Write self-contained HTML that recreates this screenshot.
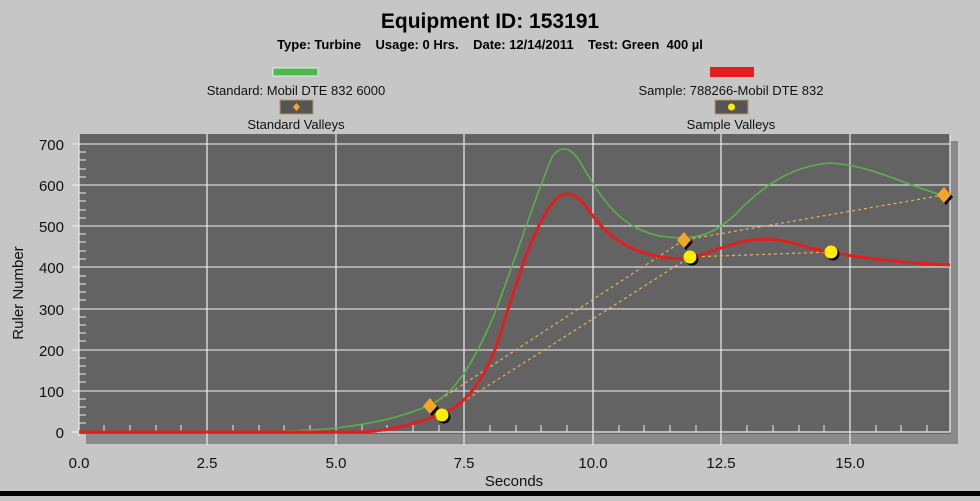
<!DOCTYPE html>
<html><head><meta charset="utf-8"><style>
body{margin:0;background:#c6c6c6;width:980px;height:496px;overflow:hidden;font-family:"Liberation Sans",sans-serif;}
</style></head><body>
<svg width="980" height="496" xmlns="http://www.w3.org/2000/svg" font-family="Liberation Sans, sans-serif">
<rect width="980" height="496" fill="#c6c6c6"/>
<rect x="0" y="491" width="980" height="5" fill="#000"/>
<text x="490" y="28" text-anchor="middle" font-size="21" font-weight="bold" fill="#000">Equipment ID: 153191</text>
<text x="490" y="49" text-anchor="middle" font-size="13" font-weight="bold" fill="#000" xml:space="preserve">Type: Turbine    Usage: 0 Hrs.    Date: 12/14/2011    Test: Green  400 µl</text>
<rect x="273" y="68" width="45" height="8" fill="#4db84d" stroke="#eee" stroke-width="1"/>
<text x="296" y="95" text-anchor="middle" font-size="13" fill="#111">Standard: Mobil DTE 832 6000</text>
<rect x="280" y="100" width="33" height="14" fill="#555" stroke="#b89a60"/>
<path d="M296.5 103 L300 107 L296.5 111 L293 107Z" fill="#f5a623"/>
<text x="296" y="129" text-anchor="middle" font-size="13" fill="#111">Standard Valleys</text>
<rect x="710" y="67" width="44" height="10" fill="#e01f1f"/>
<text x="731" y="95" text-anchor="middle" font-size="13" fill="#111">Sample: 788266-Mobil DTE 832</text>
<rect x="715" y="100" width="33" height="14" fill="#555" stroke="#b89a60"/>
<circle cx="731.5" cy="107" r="3.5" fill="#ffee00"/>
<text x="731" y="129" text-anchor="middle" font-size="13" fill="#111">Sample Valleys</text>
<rect x="86" y="141" width="872" height="303" fill="#8a8a8a"/>
<rect x="79" y="134" width="871" height="300" fill="#636363"/>
<g stroke="#d8d8d8" stroke-width="1.2">
<line x1="79" y1="144" x2="950" y2="144"/><line x1="79" y1="185" x2="950" y2="185"/>
<line x1="79" y1="226" x2="950" y2="226"/><line x1="79" y1="267" x2="950" y2="267"/>
<line x1="79" y1="309" x2="950" y2="309"/><line x1="79" y1="350" x2="950" y2="350"/>
<line x1="79" y1="391" x2="950" y2="391"/>
</g>
<g stroke="#eee" stroke-width="1.2">
<line x1="207" y1="134" x2="207" y2="445"/><line x1="336" y1="134" x2="336" y2="445"/>
<line x1="464" y1="134" x2="464" y2="445"/><line x1="593" y1="134" x2="593" y2="445"/>
<line x1="721" y1="134" x2="721" y2="445"/><line x1="850" y1="134" x2="850" y2="445"/>
<line x1="79" y1="134" x2="79" y2="436"/><line x1="72" y1="432" x2="950" y2="432"/>
<line x1="950" y1="134" x2="950" y2="432"/>
</g>
<g stroke="#eee" stroke-width="1">
<path d="M79 152h7M79 160h7M79 169h7M79 177h7M79 193h7M79 201h7M79 210h7M79 218h7M79 234h7M79 242h7M79 251h7M79 259h7M79 276h7M79 284h7M79 292h7M79 300h7M79 317h7M79 325h7M79 333h7M79 341h7M79 358h7M79 366h7M79 374h7M79 382h7M79 399h7M79 407h7M79 415h7M79 423h7"/>
<path d="M104 425v7M130 425v7M156 425v7M181 425v7M233 425v7M259 425v7M284 425v7M310 425v7M362 425v7M387 425v7M413 425v7M439 425v7M490 425v7M516 425v7M541 425v7M567 425v7M619 425v7M644 425v7M670 425v7M696 425v7M747 425v7M773 425v7M799 425v7M824 425v7M876 425v7M901 425v7M927 425v7"/>
</g>
<path d="M72 144h7M72 185h7M72 226h7M72 267h7M72 309h7M72 350h7M72 391h7" stroke="#eee"/>
<g font-size="15" fill="#111" text-anchor="end">
<text x="64" y="150">700</text><text x="64" y="191">600</text><text x="64" y="232">500</text><text x="64" y="273">400</text><text x="64" y="315">300</text><text x="64" y="356">200</text><text x="64" y="397">100</text><text x="64" y="438">0</text>
</g>
<g font-size="15" fill="#111" text-anchor="middle">
<text x="79" y="468">0.0</text><text x="207" y="468">2.5</text><text x="336" y="468">5.0</text><text x="464" y="468">7.5</text><text x="593" y="468">10.0</text><text x="721" y="468">12.5</text><text x="850" y="468">15.0</text>
</g>
<text x="514" y="486" text-anchor="middle" font-size="15" fill="#111">Seconds</text>
<text transform="translate(23,293) rotate(-90)" text-anchor="middle" font-size="15" fill="#111">Ruler Number</text>
<g stroke="#e8b060" stroke-width="1.2" stroke-dasharray="3,3" fill="none">
<path d="M430 406 L684 240 L944 195"/>
<path d="M442 415 L690 257 L831 252"/>
</g>
<path d="M79 432 L250 432 C290 431 320 430 336 428 C370 424 400 418 430 405 C455 393 472 365 492 320 C512 270 532 205 552 157 C562 143 572 148 582 165 C602 200 620 228 660 236 C700 242 715 232 735 215 C760 188 790 166 830 163 C870 165 900 183 945 196" stroke="#5bb04b" stroke-width="1.6" fill="none"/>
<path d="M79 432 L360 432 C390 431 410 425 440 415 C465 405 480 385 495 350 C515 290 530 230 555 200 C565 190 575 193 585 205 C605 235 625 250 660 257 C690 262 700 255 730 245 C760 236 780 238 810 248 C850 257 890 262 950 265" stroke="#e21f1f" stroke-width="3" fill="none"/>
<g>
<path d="M432 400 L439 408 L432 416 L425 408Z" fill="#000"/><path d="M430 398 L437 406 L430 414 L423 406Z" fill="#f5a623"/>
<path d="M686 234 L693 242 L686 250 L679 242Z" fill="#000"/><path d="M684 232 L691 240 L684 248 L677 240Z" fill="#f5a623"/>
<path d="M946 189 L953 197 L946 205 L939 197Z" fill="#000"/><path d="M944 187 L951 195 L944 203 L937 195Z" fill="#f5a623"/>
<circle cx="444" cy="417" r="6.5" fill="#000"/><circle cx="442" cy="415" r="6.5" fill="#ffee00"/>
<circle cx="692" cy="259" r="6.5" fill="#000"/><circle cx="690" cy="257" r="6.5" fill="#ffee00"/>
<circle cx="833" cy="254" r="6.5" fill="#000"/><circle cx="831" cy="252" r="6.5" fill="#ffee00"/>
</g>
</svg>
</body></html>
